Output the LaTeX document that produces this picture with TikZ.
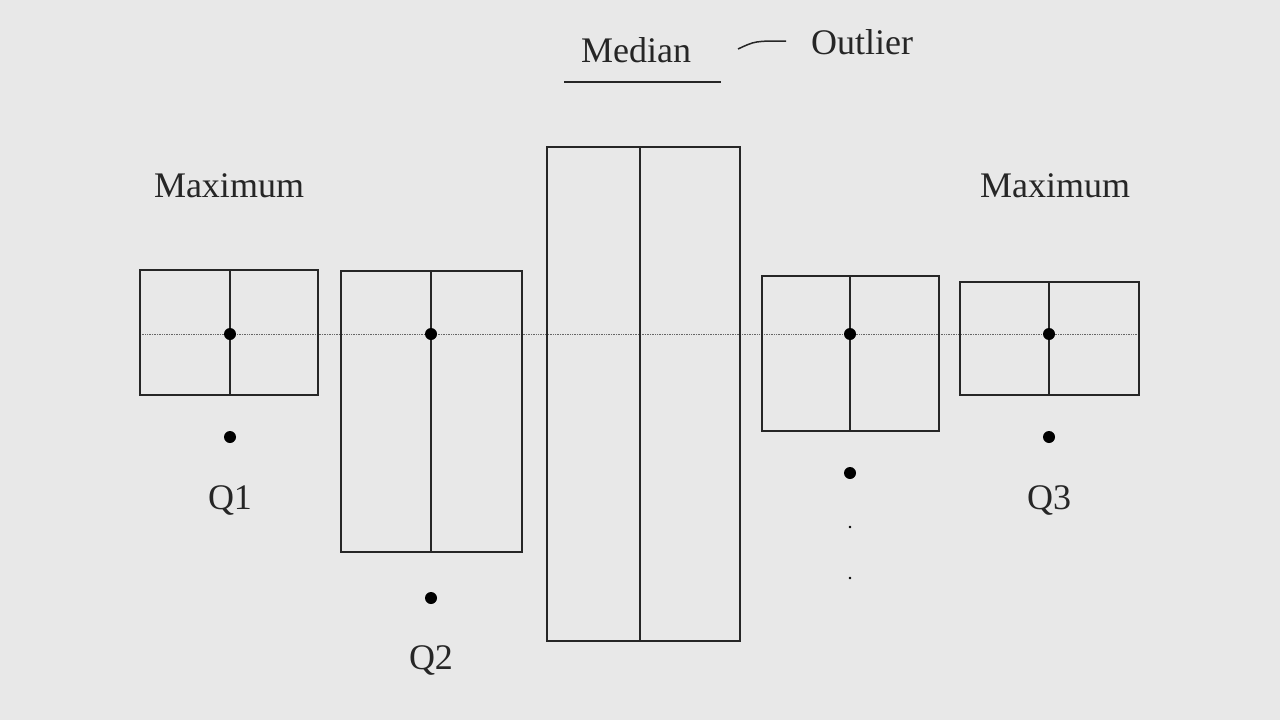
\documentclass[tikz,border=0pt]{standalone}
\usepackage{fontspec}
\setmainfont{Liberation Serif}
\begin{document}
\begin{tikzpicture}[x=1pt,y=-1pt,
  bx/.style={draw=black!85,line width=1.1pt},
  dt/.style={fill=black,circle,inner sep=0pt,minimum size=12pt},
  lbl/.style={font=\fontsize{36}{40}\selectfont,text=black!85}]
\fill[black!9] (0,0) rectangle (1280,720);
\useasboundingbox (0,0) rectangle (1280,720);
\draw[black!60,densely dotted,line width=0.7pt] (140,334) -- (1139,334);
\foreach \a/\b/\c/\d/\m in {140/270/318/395/230, 341/271/522/552/431, 547/147/740/641/640, 762/276/939/431/850, 960/282/1139/395/1049}{
  \draw[bx] (\a,\b) rectangle (\c,\d);
  \draw[bx] (\m,\b) -- (\m,\d);
}
\foreach \p in {(230,334),(431,334),(850,334),(1049,334),(230,437),(431,598),(850,473),(1049,437)}
  \node[dt] at \p {};
\fill (850,527) circle (1.3pt);
\fill (850,578) circle (1.3pt);
\node[lbl] (mx1) at (229,186) {Maximum};
\node[lbl] (mx2) at (1055,186) {Maximum};
\node[lbl] (q1) at (230,500) {Q1};
\node[lbl] (q2) at (431,660) {Q2};
\node[lbl] (q3) at (1049,500) {Q3};
\node[lbl] (med) at (636,50) {Median};
\draw[bx] (564,82) -- (721,82);
\node[lbl] (out) at (862,42) {Outlier};
\draw[bx,line width=1.5pt] (738,49) .. controls (755,41) .. (786,41);
\end{tikzpicture}
\end{document}
